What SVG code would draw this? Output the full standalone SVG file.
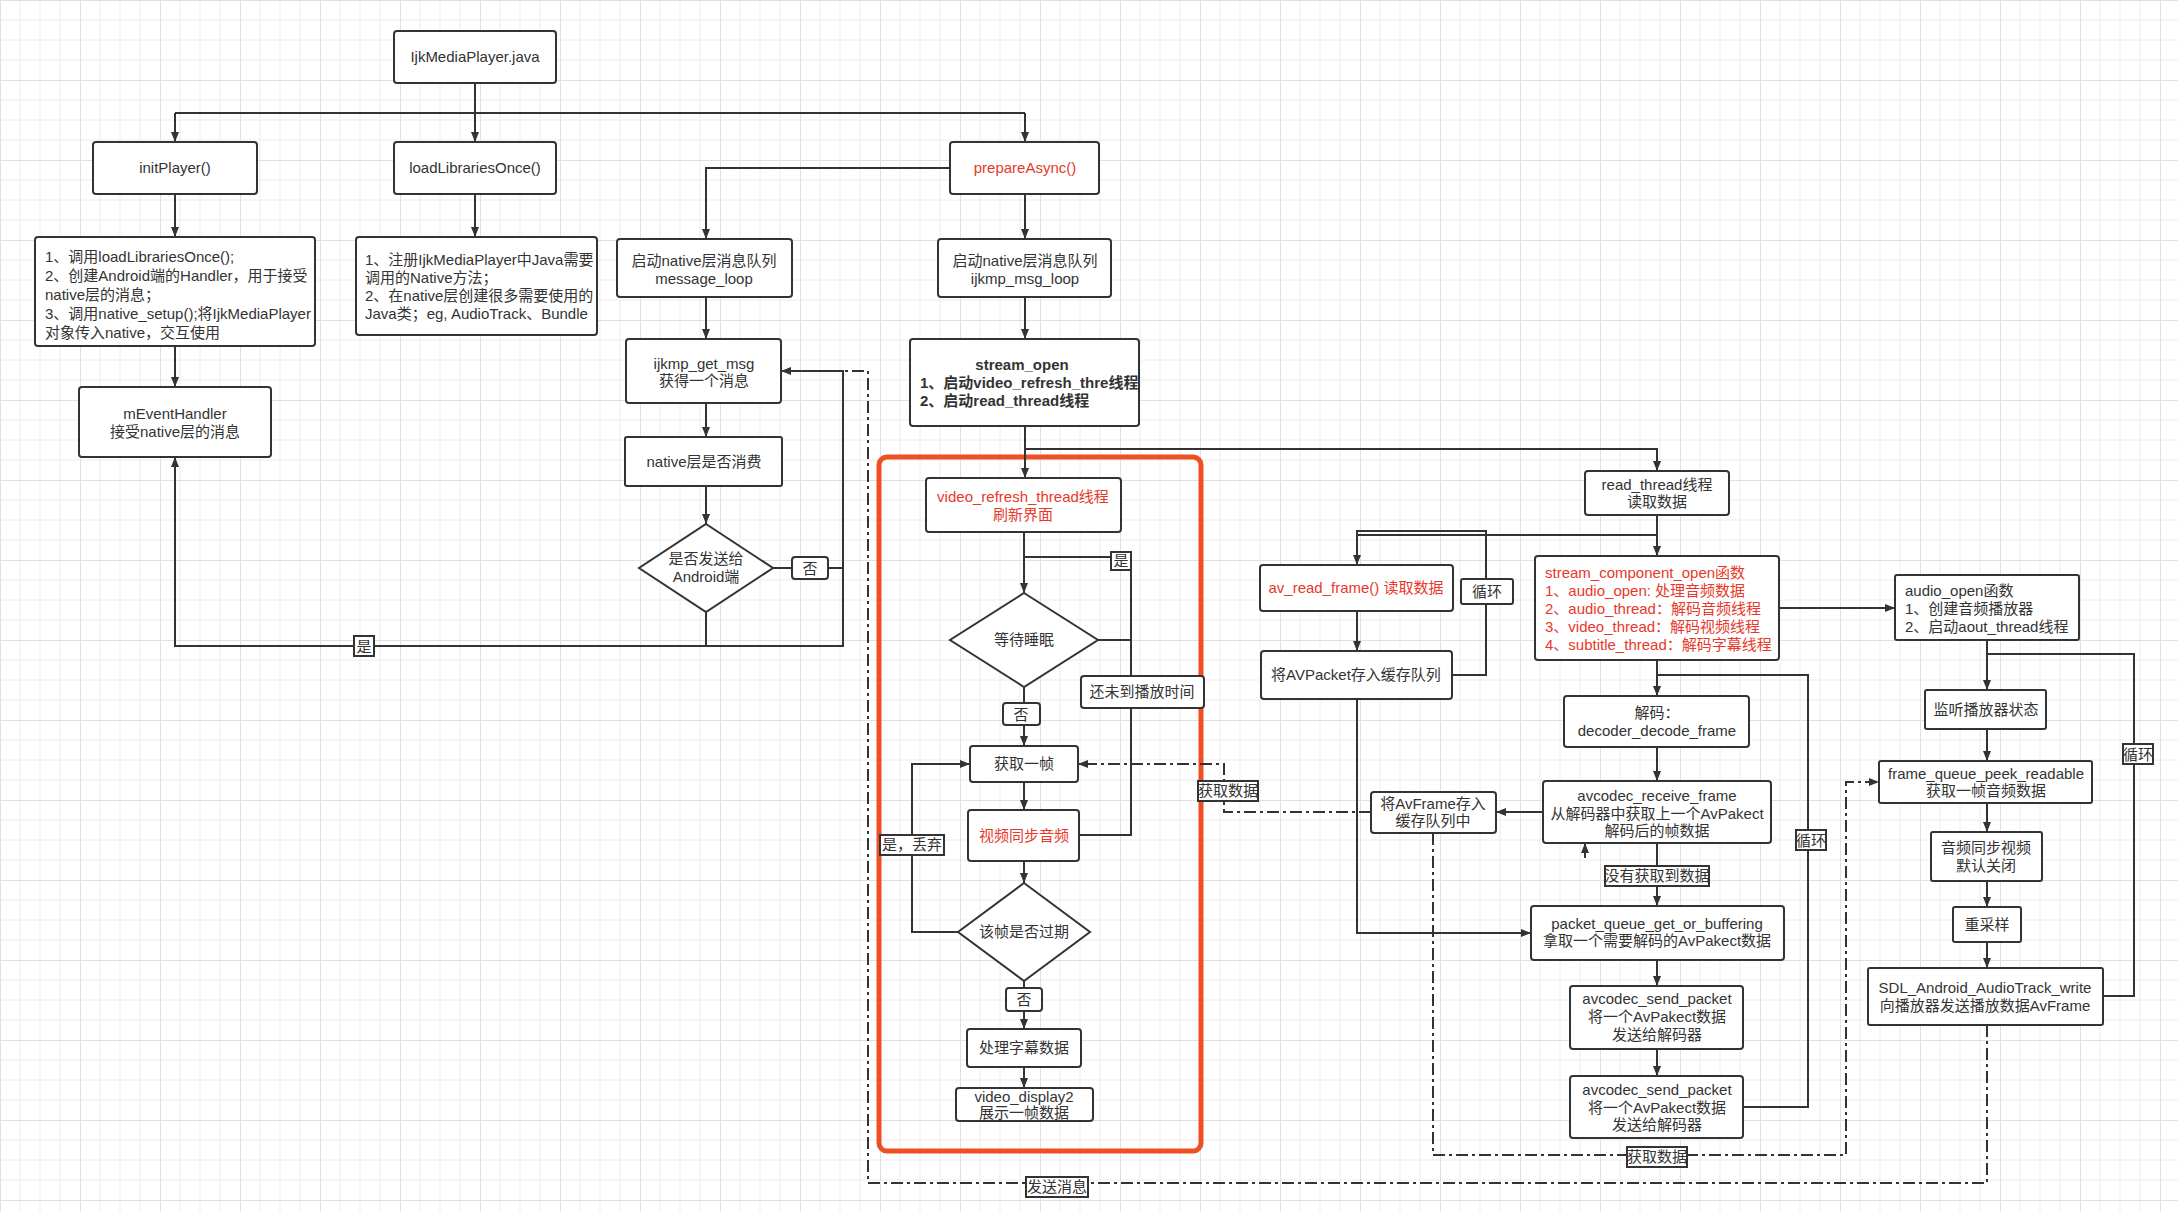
<svg xmlns="http://www.w3.org/2000/svg" width="2178" height="1212" viewBox="0 0 2178 1212">
<defs>
<pattern id="g" width="80" height="80" patternUnits="userSpaceOnUse">
<path d="M20 0V80M40 0V80M60 0V80M0 20H80M0 40H80M0 60H80" stroke="#ececec" stroke-width="1" fill="none"/>
<path d="M0 0V80M0 0H80" stroke="#e0e0e0" stroke-width="2" fill="none"/>
</pattern>
<marker id="a" viewBox="0 0 10 10" refX="10" refY="5" markerWidth="10" markerHeight="10" markerUnits="userSpaceOnUse" orient="auto"><path d="M0 1L10 5L0 9Z" fill="#333"/></marker>
</defs>
<style>
.n rect,.n path{fill:#fff;stroke:#333;stroke-width:2}
text{font-family:"Liberation Sans","Noto Sans CJK SC",sans-serif;font-size:15px;fill:#333;text-anchor:middle}
.r{fill:#e8382a}
.l{text-anchor:start}
.c path,.c polyline{fill:none;stroke:#333;stroke-width:2}
.c .d{stroke-dasharray:12 4 3 4}
.lb rect{fill:#fff;stroke:#333;stroke-width:2}
.lt{fill:#fff}
</style>
<rect width="2178" height="1212" fill="#fff"/>
<rect width="2178" height="1212" fill="url(#g)"/>
<rect x="879" y="457" width="322" height="694" rx="8" fill="none" stroke="#f04e23" stroke-width="5"/>

<g class="c">
<path d="M475 83V113M175 113H1025M175 113V142" marker-end="url(#a)"/>
<path d="M475 113V142" marker-end="url(#a)"/>
<path d="M1025 113V142" marker-end="url(#a)"/>
<path d="M175 194V237" marker-end="url(#a)"/>
<path d="M175 346V387" marker-end="url(#a)"/>
<path d="M475 194V237" marker-end="url(#a)"/>
<path d="M950 168H706V239" marker-end="url(#a)"/>
<path d="M1025 194V239" marker-end="url(#a)"/>
<path d="M706 297V339" marker-end="url(#a)"/>
<path d="M706 403V437" marker-end="url(#a)"/>
<path d="M706 486V524" marker-end="url(#a)"/>
<path d="M773 568H843V371H781" marker-end="url(#a)"/>
<path d="M706 612V646M843 568V646H175V457" marker-end="url(#a)"/>
<path class="d" d="M1987 1025V1183H868V371H843"/>
<path d="M1025 297V339" marker-end="url(#a)"/>
<path d="M1025 426V478" marker-end="url(#a)"/>
<path d="M1025 449H1657V471" marker-end="url(#a)"/>
<path d="M1024 532V593" marker-end="url(#a)"/>
<path d="M1079 835H1131V557H1024M1098 640H1131"/>
<path d="M1024 687V746" marker-end="url(#a)"/>
<path d="M1024 782V810" marker-end="url(#a)"/>
<path d="M1024 861V883" marker-end="url(#a)"/>
<path d="M958 932H912V764H970" marker-end="url(#a)"/>
<path d="M1024 981V1029" marker-end="url(#a)"/>
<path d="M1024 1067V1088" marker-end="url(#a)"/>
<path class="d" d="M1371 812H1224V764H1078" marker-end="url(#a)"/>
<path d="M1657 515V556" marker-end="url(#a)"/>
<path d="M1657 535H1357"/>
<path d="M1452 675H1486V531H1357V565" marker-end="url(#a)"/>
<path d="M1357 611V651" marker-end="url(#a)"/>
<path d="M1357 699V933H1531" marker-end="url(#a)"/>
<path d="M1779 608H1895" marker-end="url(#a)"/>
<path d="M1657 660V696" marker-end="url(#a)"/>
<path d="M1657 675H1808V1107H1743"/>
<path d="M1657 747V781" marker-end="url(#a)"/>
<path d="M1543 812H1496" marker-end="url(#a)"/>
<path d="M1585 858V843" marker-end="url(#a)"/>
<path d="M1657 843V906" marker-end="url(#a)"/>
<path d="M1657 960V986" marker-end="url(#a)"/>
<path d="M1657 1049V1076" marker-end="url(#a)"/>
<path class="d" d="M1433 833V1155H1846V782H1879" marker-end="url(#a)"/>
<path d="M1987 640V690" marker-end="url(#a)"/>
<path d="M1987 654H2134V996H2103"/>
<path d="M1987 729V761" marker-end="url(#a)"/>
<path d="M1987 803V832" marker-end="url(#a)"/>
<path d="M1987 881V907" marker-end="url(#a)"/>
<path d="M1987 942V968" marker-end="url(#a)"/>
</g>

<g id="ijk" class="n"><rect x="394" y="31" width="162" height="52" rx="3"/><text x="475" y="62">IjkMediaPlayer.java</text></g>
<g id="init" class="n"><rect x="93" y="142" width="164" height="52" rx="3"/><text x="175" y="173">initPlayer()</text></g>
<g id="load" class="n"><rect x="394" y="142" width="162" height="52" rx="3"/><text x="475" y="173">loadLibrariesOnce()</text></g>
<g id="prep" class="n"><rect x="950" y="142" width="149" height="52" rx="3"/><text class="r" x="1025" y="173">prepareAsync()</text></g>
<g id="initdesc" class="n"><rect x="35" y="237" width="280" height="109" rx="3"/>
<text class="l" x="45" y="262">1、调用loadLibrariesOnce();</text>
<text class="l" x="45" y="281">2、创建Android端的Handler，用于接受</text>
<text class="l" x="45" y="300">native层的消息；</text>
<text class="l" x="45" y="319">3、调用native_setup();将IjkMediaPlayer</text>
<text class="l" x="45" y="338">对象传入native，交互使用</text></g>
<g id="loaddesc" class="n"><rect x="356" y="237" width="241" height="98" rx="3"/>
<text class="l" x="365" y="265">1、注册IjkMediaPlayer中Java需要</text>
<text class="l" x="365" y="283">调用的Native方法；</text>
<text class="l" x="365" y="301">2、在native层创建很多需要使用的</text>
<text class="l" x="365" y="319">Java类；eg, AudioTrack、Bundle</text></g>
<g id="mevent" class="n"><rect x="79" y="387" width="192" height="70" rx="3"/><text x="175" y="419">mEventHandler</text><text x="175" y="437">接受native层的消息</text></g>
<g id="msgloop" class="n"><rect x="617" y="239" width="175" height="58" rx="3"/><text x="704" y="266">启动native层消息队列</text><text x="704" y="284">message_loop</text></g>
<g id="ijkloop" class="n"><rect x="938" y="239" width="173" height="58" rx="3"/><text x="1025" y="266">启动native层消息队列</text><text x="1025" y="284">ijkmp_msg_loop</text></g>
<g id="getmsg" class="n"><rect x="626" y="339" width="155" height="64" rx="3"/><text x="704" y="369">ijkmp_get_msg</text><text x="704" y="386">获得一个消息</text></g>
<g id="consume" class="n"><rect x="625" y="437" width="157" height="49" rx="2"/><text x="704" y="467">native层是否消费</text></g>
<g id="send" class="n"><path d="M706 524L773 568L706 612L639 568Z"/><text x="706" y="564">是否发送给</text><text x="706" y="582">Android端</text></g>
<g class="lb"><rect x="792" y="557" width="36" height="22" rx="3"/><text x="810" y="574">否</text></g>
<g class="lb"><rect x="354" y="636" width="20" height="20" fill="#fff" stroke="none"/><text x="364" y="652">是</text></g>
<g id="streamopen" class="n"><rect x="910" y="339" width="229" height="87" rx="3"/>
<text x="1022" y="370" font-weight="bold">stream_open</text>
<text class="l" x="920" y="388" font-weight="bold">1、启动video_refresh_thre线程</text>
<text class="l" x="920" y="406" font-weight="bold">2、启动read_thread线程</text></g>
<g id="vrt" class="n"><rect x="926" y="478" width="195" height="54" rx="3"/><text class="r" x="1023" y="502">video_refresh_thread线程</text><text class="r" x="1023" y="520">刷新界面</text></g>
<g id="sleep" class="n"><path d="M1024 593L1098 640L1024 687L950 640Z"/><text x="1024" y="645">等待睡眠</text></g>
<g class="lb"><rect x="1111" y="552" width="20" height="18" fill="#fff" stroke="none"/><text x="1121" y="566">是</text></g>
<g class="lb"><rect x="1081" y="676" width="123" height="32" rx="3"/><text x="1142" y="697">还未到播放时间</text></g>
<g class="lb"><rect x="1003" y="703" width="37" height="22" rx="3"/><text x="1021" y="720">否</text></g>
<g id="getframe" class="n"><rect x="970" y="746" width="108" height="36" rx="3"/><text x="1024" y="769">获取一帧</text></g>
<g id="sync" class="n"><rect x="968" y="810" width="111" height="51" rx="3"/><text class="r" x="1024" y="841">视频同步音频</text></g>
<g id="expire" class="n"><path d="M1024 883L1090 932L1024 981L958 932Z"/><text x="1024" y="937">该帧是否过期</text></g>
<g class="lb"><rect x="880" y="835" width="64" height="20" fill="#fff" stroke="none"/><text x="912" y="850">是，丢弃</text></g>
<g class="lb"><rect x="1006" y="988" width="36" height="23" rx="3"/><text x="1024" y="1005">否</text></g>
<g id="subtitle" class="n"><rect x="967" y="1029" width="114" height="38" rx="3"/><text x="1024" y="1053">处理字幕数据</text></g>
<g id="display" class="n"><rect x="956" y="1088" width="137" height="33" rx="3"/><text x="1024" y="1102">video_display2</text><text x="1024" y="1118">展示一帧数据</text></g>
<g class="lb"><rect x="1198" y="781" width="60" height="20" fill="#fff" stroke="none"/><text x="1228" y="796">获取数据</text></g>
<g class="lb"><rect x="1026" y="1177" width="62" height="20" fill="#fff" stroke="none"/><text x="1057" y="1192">发送消息</text></g>

<g id="readthread" class="n"><rect x="1585" y="471" width="144" height="44" rx="3"/><text x="1657" y="490">read_thread线程</text><text x="1657" y="507">读取数据</text></g>
<g id="avread" class="n"><rect x="1260" y="565" width="193" height="46" rx="3"/><text class="r" x="1356" y="593">av_read_frame() 读取数据</text></g>
<g class="lb"><rect x="1461" y="579" width="52" height="25" rx="2"/><text x="1487" y="597">循环</text></g>
<g id="avpacket" class="n"><rect x="1261" y="651" width="191" height="48" rx="3"/><text x="1356" y="680">将AVPacket存入缓存队列</text></g>
<g id="sco" class="n"><rect x="1535" y="556" width="244" height="104" rx="3"/>
<text class="l r" x="1545" y="578">stream_component_open函数</text>
<text class="l r" x="1545" y="596">1、audio_open: 处理音频数据</text>
<text class="l r" x="1545" y="614">2、audio_thread：解码音频线程</text>
<text class="l r" x="1545" y="632">3、video_thread：解码视频线程</text>
<text class="l r" x="1545" y="650">4、subtitle_thread：解码字幕线程</text></g>
<g id="audioopen" class="n"><rect x="1895" y="575" width="184" height="65" rx="2"/>
<text class="l" x="1905" y="596">audio_open函数</text>
<text class="l" x="1905" y="614">1、创建音频播放器</text>
<text class="l" x="1905" y="632">2、启动aout_thread线程</text></g>
<g id="decode" class="n"><rect x="1564" y="696" width="185" height="51" rx="3"/><text x="1657" y="718">解码：</text><text x="1657" y="736">decoder_decode_frame</text></g>
<g id="recv" class="n"><rect x="1543" y="781" width="228" height="62" rx="3"/><text x="1657" y="801">avcodec_receive_frame</text><text x="1657" y="819">从解码器中获取上一个AvPakect</text><text x="1657" y="836">解码后的帧数据</text></g>
<g id="avframe" class="n"><rect x="1371" y="792" width="125" height="41" rx="3"/><text x="1433" y="809">将AvFrame存入</text><text x="1433" y="826">缓存队列中</text></g>
<g class="lb"><rect x="1605" y="866" width="104" height="20" fill="#fff" stroke="none"/><text x="1657" y="881">没有获取到数据</text></g>
<g id="pq" class="n"><rect x="1531" y="906" width="253" height="54" rx="3"/><text x="1657" y="929">packet_queue_get_or_buffering</text><text x="1657" y="946">拿取一个需要解码的AvPakect数据</text></g>
<g id="send1" class="n"><rect x="1570" y="986" width="173" height="63" rx="3"/><text x="1657" y="1004">avcodec_send_packet</text><text x="1657" y="1022">将一个AvPakect数据</text><text x="1657" y="1040">发送给解码器</text></g>
<g id="send2" class="n"><rect x="1570" y="1076" width="173" height="62" rx="3"/><text x="1657" y="1095">avcodec_send_packet</text><text x="1657" y="1113">将一个AvPakect数据</text><text x="1657" y="1130">发送给解码器</text></g>
<g class="lb"><rect x="1796" y="830" width="30" height="20" fill="#fff" stroke="none"/><text x="1811" y="846">循环</text></g>
<g class="lb"><rect x="1627" y="1147" width="60" height="20" fill="#fff" stroke="none"/><text x="1657" y="1162">获取数据</text></g>
<g id="listen" class="n"><rect x="1925" y="690" width="121" height="39" rx="2"/><text x="1986" y="715">监听播放器状态</text></g>
<g id="fqpr" class="n"><rect x="1879" y="761" width="213" height="42" rx="2"/><text x="1986" y="779">frame_queue_peek_readable</text><text x="1986" y="796">获取一帧音频数据</text></g>
<g id="avsync" class="n"><rect x="1931" y="832" width="111" height="49" rx="2"/><text x="1986" y="853">音频同步视频</text><text x="1986" y="871">默认关闭</text></g>
<g id="resample" class="n"><rect x="1953" y="907" width="68" height="35" rx="2"/><text x="1987" y="930">重采样</text></g>
<g id="sdl" class="n"><rect x="1868" y="968" width="235" height="57" rx="2"/><text x="1985" y="993">SDL_Android_AudioTrack_write</text><text x="1985" y="1011">向播放器发送播放数据AvFrame</text></g>
<g class="lb"><rect x="2123" y="744" width="30" height="20" fill="#fff" stroke="none"/><text x="2138" y="760">循环</text></g>
</svg>
